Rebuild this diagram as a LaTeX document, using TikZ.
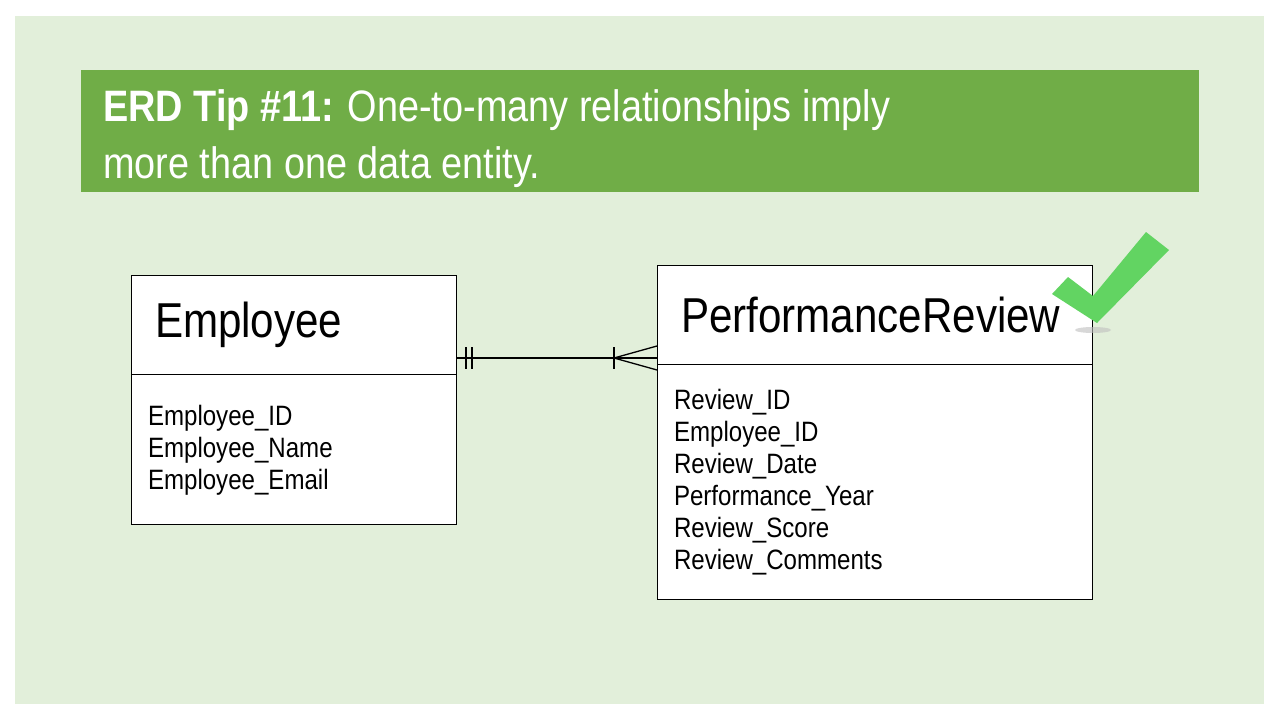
\documentclass[tikz,border=0pt]{standalone}
\usepackage{fontspec}
\setmainfont[FakeStretch=0.86]{Liberation Sans}
\usetikzlibrary{positioning}
\definecolor{bggreen}{RGB}{226,239,218}
\definecolor{bargreen}{RGB}{112,173,71}
\definecolor{tickgreen}{RGB}{98,212,98}
\tikzset{
  title/.style={draw, fill=white, line width=1pt, outer sep=0pt, inner xsep=24, minimum height=99,
    align=left, font=\fontsize{49}{56}\selectfont},
  attrs/.style={draw, fill=white, line width=1pt, outer sep=0pt, inner xsep=17, align=left,
    font=\fontsize{28}{32}\selectfont},
  conn/.style={line width=1.3pt},
  tip/.style={text=white, inner sep=0pt, anchor=base west, font=\fontsize{44}{57}\selectfont}
}

\begin{document}
\begin{tikzpicture}[x=1pt,y=-1pt]
\useasboundingbox (0,0) rectangle (1280,720);
\fill[bggreen] (15,16) rectangle (1264,704);
% banner
\node[fill=bargreen, minimum width=1118, minimum height=122, anchor=north west, outer sep=0pt] (banner) at (81,70) {};
\node[tip] (tip1) at (103,121) {\textbf{ERD Tip \#11:} One-to-many relationships imply};
\node[tip] (tip2) at (103,178) {more than one data entity.};

% entities
\node[title, anchor=north west, minimum width=325, text width=277] (emp) at (131,275) {Employee};
\node[attrs, below=0pt of emp, minimum width=325, text width=291, minimum height=150] (empattr)
  {\strut Employee\_ID\\Employee\_Name\\Employee\_Email};
\node[title, anchor=north west, minimum width=435, text width=387] (rev) at (657,265) {PerformanceReview};
\node[attrs, below=0pt of rev, minimum width=435, text width=401, minimum height=235] (revattr)
  {\strut Review\_ID\\Employee\_ID\\Review\_Date\\Performance\_Year\\Review\_Score\\Review\_Comments};

% one-to-many
\coordinate (rel) at (0,358);
\draw[conn] (emp.east |- rel) -- (rev.west |- rel);
\draw[conn] ([xshift=10]emp.east |- rel) ++(0,-11) -- ++(0,22);
\draw[conn] ([xshift=16]emp.east |- rel) ++(0,-11) -- ++(0,22);
\path (rev.west |- rel) ++(-43,0) coordinate (crow);
\draw[conn] (crow) ++(0,-11) -- ++(0,22);
\draw[conn] ([yshift=12]rev.west |- rel) -- (crow) -- ([yshift=-12]rev.west |- rel);

% check mark
\fill[black!25, opacity=0.6] (1093,330) ellipse [x radius=18, y radius=3];
\fill[tickgreen] (1052,294) -- (1068,277) -- (1093,296) -- (1146,232) -- (1169,250) -- (1097,323) -- cycle;
\end{tikzpicture}
\end{document}
